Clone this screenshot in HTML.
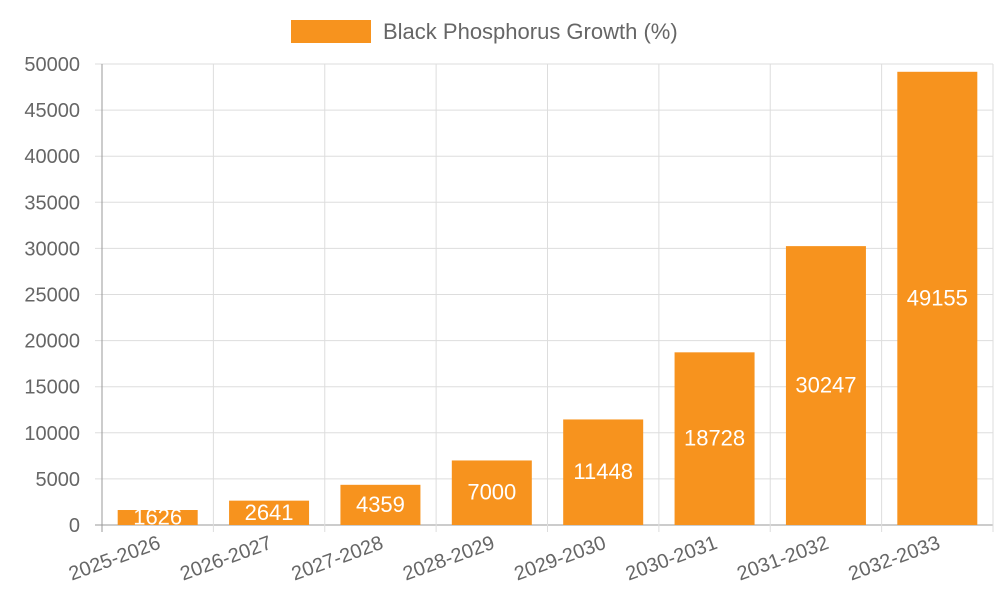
<!DOCTYPE html>
<html><head><meta charset="utf-8"><style>
html,body{margin:0;padding:0;background:#fff;}
svg{display:block;font-family:"Liberation Sans",sans-serif;}
</style></head><body>
<svg id="chart" width="1000" height="600"></svg>
<script>
const categories=["2025-2026","2026-2027","2027-2028","2028-2029","2029-2030","2030-2031","2031-2032","2032-2033"];
const values=[1626,2641,4359,7000,11448,18728,30247,49155];
const yTicks=[0,5000,10000,15000,20000,25000,30000,35000,40000,45000,50000];
const seriesLabel="Black Phosphorus Growth (%)";

const NS="http://www.w3.org/2000/svg";
const svg=document.getElementById('chart');
const L=102,R=993,T=64,B=525,yMax=50000;
const bw=(R-L)/categories.length;
const y=v=>B-(v/yMax)*(B-T);
const x=i=>L+i*bw;
function el(tag,attrs,parent){const e=document.createElementNS(NS,tag);for(const k in attrs)e.setAttribute(k,attrs[k]);(parent||svg).appendChild(e);return e;}

const grid=el('g',{});


yTicks.forEach(t=>{
  const ln=el('line',{x1:95,x2:R,y1:y(t),y2:y(t),stroke:t===0?'#999':'#ddd','stroke-width':1},grid);
  
  
  const tx=el('text',{x:80,y:y(t)+7,'text-anchor':'end','font-size':20,fill:'#666'},grid);
  
  
  tx.textContent=t;
});
for(let i=0;i<=categories.length;i++){
  const ln=el('line',{x1:x(i),x2:x(i),y1:T,y2:532,stroke:i===0?'#999':'#ddd','stroke-width':1},grid);
  
  
}
categories.forEach((c,i)=>{
  const cx=x(i)+bw/2, w=80;
  const r=el('rect',{x:cx-w/2,y:y(values[i]),width:w,height:B-y(values[i]),fill:'#f7931e'});
  
  
  const v=el('text',{x:cx,y:(y(values[i])+B)/2+7,'text-anchor':'middle','font-size':22,fill:'#fff'});
  
  
  v.textContent=values[i];
  const lx=cx+4, ly=548;
  const t=el('text',{x:lx,y:ly,'text-anchor':'end','font-size':20,fill:'#666',transform:`rotate(-20 ${lx} ${ly})`});
  
  
  t.textContent=c;
});
const lg=el('g',{});


el('rect',{x:291,y:20,width:80,height:23,fill:'#f7931e'},lg);
const lt=el('text',{x:383,y:39,'font-size':22,fill:'#666'},lg);


lt.textContent=seriesLabel;
</script>
</body></html>
